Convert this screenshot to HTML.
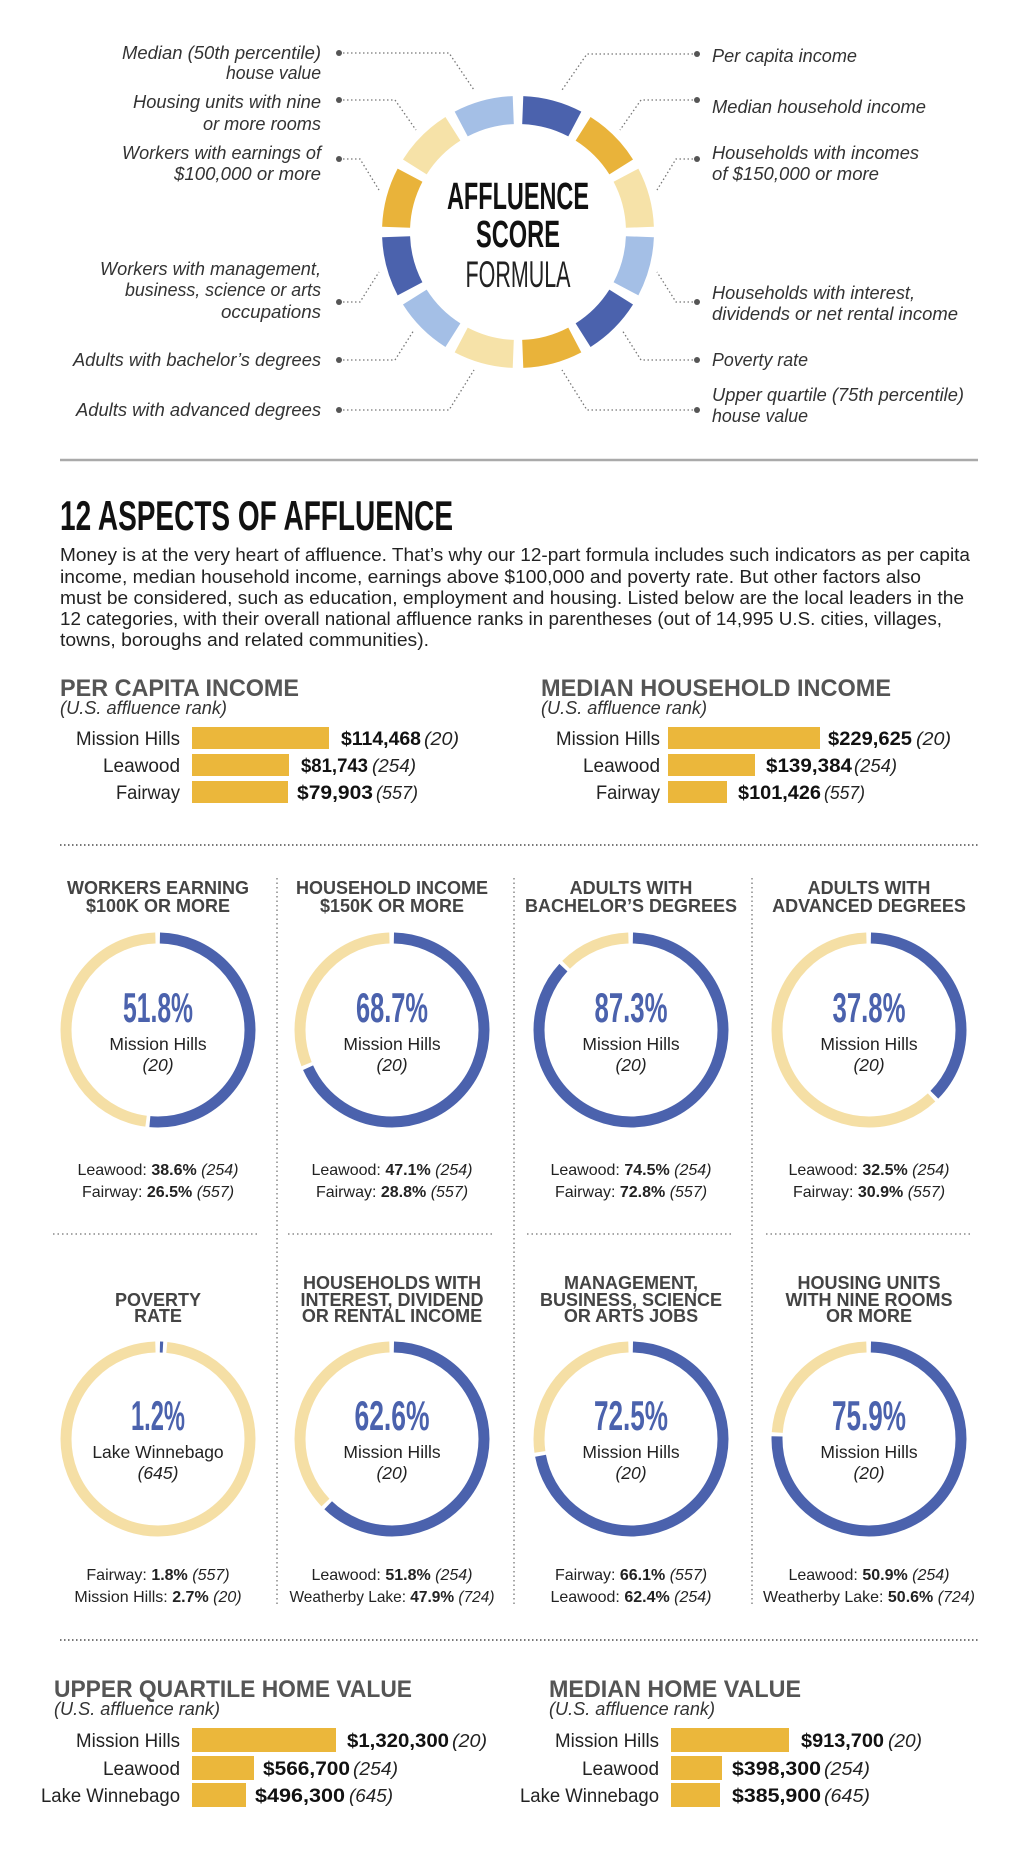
<!DOCTYPE html>
<html><head><meta charset="utf-8"><style>
html,body{margin:0;padding:0;background:#fff}
svg{display:block}
text{font-family:"Liberation Sans",sans-serif}
.lab{font-size:18px;font-style:italic;fill:#333}
.hd{font-size:18px;font-weight:bold;fill:#444;text-anchor:middle}
.bh{font-size:24px;font-weight:bold;fill:#555}
.sub{font-size:18px;font-style:italic;fill:#333}
.bl{font-size:19px;fill:#222;text-anchor:end}
.bv{font-size:19px;font-weight:bold;fill:#111}
.bp{font-size:18px;font-style:italic;fill:#222}
.pct{font-size:42px;font-weight:bold;fill:#4b62ad;text-anchor:middle}
.nm{font-size:17.5px;fill:#222;text-anchor:middle}
.rk{font-size:17.5px;font-style:italic;fill:#222;text-anchor:middle}
.bt{font-size:16px;fill:#222;text-anchor:middle}
.dot{stroke:#777;stroke-width:1.3;stroke-dasharray:1.5 2.5;fill:none}
</style></head><body>
<svg width="1024" height="1859" viewBox="0 0 1024 1859" xmlns="http://www.w3.org/2000/svg">
<g transform="translate(518,232) rotate(-90)">
<circle r="122" fill="none" stroke="#4b62ad" stroke-width="28" pathLength="360" stroke-dasharray="25.5 334.5" stroke-dashoffset="-2.25"/>
<circle r="122" fill="none" stroke="#e9b33a" stroke-width="28" pathLength="360" stroke-dasharray="25.5 334.5" stroke-dashoffset="-32.25"/>
<circle r="122" fill="none" stroke="#f6e2a8" stroke-width="28" pathLength="360" stroke-dasharray="25.5 334.5" stroke-dashoffset="-62.25"/>
<circle r="122" fill="none" stroke="#a4bfe6" stroke-width="28" pathLength="360" stroke-dasharray="25.5 334.5" stroke-dashoffset="-92.25"/>
<circle r="122" fill="none" stroke="#4b62ad" stroke-width="28" pathLength="360" stroke-dasharray="25.5 334.5" stroke-dashoffset="-122.25"/>
<circle r="122" fill="none" stroke="#e9b33a" stroke-width="28" pathLength="360" stroke-dasharray="25.5 334.5" stroke-dashoffset="-152.25"/>
<circle r="122" fill="none" stroke="#f6e2a8" stroke-width="28" pathLength="360" stroke-dasharray="25.5 334.5" stroke-dashoffset="-182.25"/>
<circle r="122" fill="none" stroke="#a4bfe6" stroke-width="28" pathLength="360" stroke-dasharray="25.5 334.5" stroke-dashoffset="-212.25"/>
<circle r="122" fill="none" stroke="#4b62ad" stroke-width="28" pathLength="360" stroke-dasharray="25.5 334.5" stroke-dashoffset="-242.25"/>
<circle r="122" fill="none" stroke="#e9b33a" stroke-width="28" pathLength="360" stroke-dasharray="25.5 334.5" stroke-dashoffset="-272.25"/>
<circle r="122" fill="none" stroke="#f6e2a8" stroke-width="28" pathLength="360" stroke-dasharray="25.5 334.5" stroke-dashoffset="-302.25"/>
<circle r="122" fill="none" stroke="#a4bfe6" stroke-width="28" pathLength="360" stroke-dasharray="25.5 334.5" stroke-dashoffset="-332.25"/>
</g>
<text x="518" y="209" text-anchor="middle" font-size="38" font-weight="bold" fill="#111" textLength="142" lengthAdjust="spacingAndGlyphs">AFFLUENCE</text>
<text x="518" y="247" text-anchor="middle" font-size="38" font-weight="bold" fill="#111" textLength="84" lengthAdjust="spacingAndGlyphs">SCORE</text>
<text x="518" y="287" text-anchor="middle" font-size="37" fill="#222" textLength="105" lengthAdjust="spacingAndGlyphs">FORMULA</text>

<polyline class="dot" points="339,53 449,53 474,90"/>
<polyline class="dot" points="339,100 395,100 416,130"/>
<polyline class="dot" points="339,159 360,159 379,190"/>
<polyline class="dot" points="339,302 360,302 379,272"/>
<polyline class="dot" points="339,360 395,360 414,330"/>
<polyline class="dot" points="339,410 449,410 474,370"/>
<polyline class="dot" points="697,54 587,54 562,90"/>
<polyline class="dot" points="697,100 641,100 620,130"/>
<polyline class="dot" points="697,159 676,159 657,190"/>
<polyline class="dot" points="697,302 676,302 657,272"/>
<polyline class="dot" points="697,360 641,360 622,330"/>
<polyline class="dot" points="697,410 587,410 562,370"/>
<g fill="#555">
<circle cx="339" cy="53" r="3"/><circle cx="339" cy="100" r="3"/><circle cx="339" cy="159" r="3"/>
<circle cx="339" cy="302" r="3"/><circle cx="339" cy="360" r="3"/><circle cx="339" cy="410" r="3"/>
<circle cx="697" cy="54" r="3"/><circle cx="697" cy="100" r="3"/><circle cx="697" cy="159" r="3"/>
<circle cx="697" cy="302" r="3"/><circle cx="697" cy="360" r="3"/><circle cx="697" cy="410" r="3"/>
</g>
<g class="lab" text-anchor="end">
<text x="321" y="59" textLength="199" lengthAdjust="spacingAndGlyphs">Median (50th percentile)</text>
<text x="321" y="79" textLength="95" lengthAdjust="spacingAndGlyphs">house value</text>
<text x="321" y="108" textLength="188" lengthAdjust="spacingAndGlyphs">Housing units with nine</text>
<text x="321" y="130" textLength="118" lengthAdjust="spacingAndGlyphs">or more rooms</text>
<text x="321" y="159" textLength="199" lengthAdjust="spacingAndGlyphs">Workers with earnings of</text>
<text x="321" y="180" textLength="147" lengthAdjust="spacingAndGlyphs">$100,000 or more</text>
<text x="321" y="275" textLength="221" lengthAdjust="spacingAndGlyphs">Workers with management,</text>
<text x="321" y="296" textLength="196" lengthAdjust="spacingAndGlyphs">business, science or arts</text>
<text x="321" y="318" textLength="100" lengthAdjust="spacingAndGlyphs">occupations</text>
<text x="321" y="366" textLength="248" lengthAdjust="spacingAndGlyphs">Adults with bachelor’s degrees</text>
<text x="321" y="416" textLength="245" lengthAdjust="spacingAndGlyphs">Adults with advanced degrees</text>
</g>
<g class="lab">
<text x="712" y="62" textLength="145" lengthAdjust="spacingAndGlyphs">Per capita income</text>
<text x="712" y="113" textLength="214" lengthAdjust="spacingAndGlyphs">Median household income</text>
<text x="712" y="159" textLength="207" lengthAdjust="spacingAndGlyphs">Households with incomes</text>
<text x="712" y="180" textLength="167" lengthAdjust="spacingAndGlyphs">of $150,000 or more</text>
<text x="712" y="299" textLength="203" lengthAdjust="spacingAndGlyphs">Households with interest,</text>
<text x="712" y="320" textLength="246" lengthAdjust="spacingAndGlyphs">dividends or net rental income</text>
<text x="712" y="366" textLength="96" lengthAdjust="spacingAndGlyphs">Poverty rate</text>
<text x="712" y="401" textLength="252" lengthAdjust="spacingAndGlyphs">Upper quartile (75th percentile)</text>
<text x="712" y="422" textLength="96" lengthAdjust="spacingAndGlyphs">house value</text>
</g>

<line x1="60" y1="460" x2="978" y2="460" stroke="#aaa" stroke-width="2.5"/>

<text x="60" y="530" font-size="42" font-weight="bold" fill="#111" textLength="393" lengthAdjust="spacingAndGlyphs">12 ASPECTS OF AFFLUENCE</text>
<g font-size="18" fill="#222">
<text x="60" y="561" textLength="910" lengthAdjust="spacingAndGlyphs">Money is at the very heart of affluence. That’s why our 12-part formula includes such indicators as per capita</text>
<text x="60" y="583" textLength="861" lengthAdjust="spacingAndGlyphs">income, median household income, earnings above $100,000 and poverty rate. But other factors also</text>
<text x="60" y="604" textLength="904" lengthAdjust="spacingAndGlyphs">must be considered, such as education, employment and housing. Listed below are the local leaders in the</text>
<text x="60" y="625" textLength="882" lengthAdjust="spacingAndGlyphs">12 categories, with their overall national affluence ranks in parentheses (out of 14,995 U.S. cities, villages,</text>
<text x="60" y="646" textLength="369" lengthAdjust="spacingAndGlyphs">towns, boroughs and related communities).</text>
</g>

<text class="bh" x="60" y="696" textLength="239" lengthAdjust="spacingAndGlyphs">PER CAPITA INCOME</text>
<text class="sub" x="60" y="714" textLength="167" lengthAdjust="spacingAndGlyphs">(U.S. affluence rank)</text>
<text class="bh" x="541" y="696" textLength="350" lengthAdjust="spacingAndGlyphs">MEDIAN HOUSEHOLD INCOME</text>
<text class="sub" x="541" y="714" textLength="166" lengthAdjust="spacingAndGlyphs">(U.S. affluence rank)</text>
<g fill="#ebb73b">
<rect x="192" y="727" width="137" height="22"/><rect x="192" y="754" width="97" height="22"/><rect x="192" y="781" width="96" height="22"/>
<rect x="668" y="727" width="152" height="22"/><rect x="668" y="754" width="87" height="22"/><rect x="668" y="781" width="59" height="22"/>
</g>
<text class="bl" x="180" y="745" textLength="104" lengthAdjust="spacingAndGlyphs">Mission Hills</text>
<text class="bl" x="180" y="772" textLength="77" lengthAdjust="spacingAndGlyphs">Leawood</text>
<text class="bl" x="180" y="799" textLength="64" lengthAdjust="spacingAndGlyphs">Fairway</text>
<text class="bl" x="660" y="745" textLength="104" lengthAdjust="spacingAndGlyphs">Mission Hills</text>
<text class="bl" x="660" y="772" textLength="77" lengthAdjust="spacingAndGlyphs">Leawood</text>
<text class="bl" x="660" y="799" textLength="64" lengthAdjust="spacingAndGlyphs">Fairway</text>
<text class="bv" x="341" y="745" textLength="80" lengthAdjust="spacingAndGlyphs">$114,468</text><text class="bp" x="424" y="745" textLength="35" lengthAdjust="spacingAndGlyphs">(20)</text>
<text class="bv" x="301" y="772" textLength="67" lengthAdjust="spacingAndGlyphs">$81,743</text><text class="bp" x="372" y="772" textLength="44" lengthAdjust="spacingAndGlyphs">(254)</text>
<text class="bv" x="297" y="799" textLength="76" lengthAdjust="spacingAndGlyphs">$79,903</text><text class="bp" x="376" y="799" textLength="42" lengthAdjust="spacingAndGlyphs">(557)</text>
<text class="bv" x="828" y="745" textLength="84" lengthAdjust="spacingAndGlyphs">$229,625</text><text class="bp" x="916" y="745" textLength="35" lengthAdjust="spacingAndGlyphs">(20)</text>
<text class="bv" x="766" y="772" textLength="86" lengthAdjust="spacingAndGlyphs">$139,384</text><text class="bp" x="854" y="772" textLength="43" lengthAdjust="spacingAndGlyphs">(254)</text>
<text class="bv" x="738" y="799" textLength="83" lengthAdjust="spacingAndGlyphs">$101,426</text><text class="bp" x="824" y="799" textLength="41" lengthAdjust="spacingAndGlyphs">(557)</text>

<line x1="60" y1="845" x2="978" y2="845" stroke="#777" stroke-width="2" stroke-dasharray="1.5 2.5"/>

<g stroke="#888" stroke-width="1.5" stroke-dasharray="1.5 3">
<line x1="277" y1="878" x2="277" y2="1604"/><line x1="514" y1="878" x2="514" y2="1604"/><line x1="752" y1="878" x2="752" y2="1604"/>
<line x1="53" y1="1234" x2="258" y2="1234"/><line x1="288" y1="1234" x2="495" y2="1234"/>
<line x1="527" y1="1234" x2="733" y2="1234"/><line x1="766" y1="1234" x2="972" y2="1234"/>
</g>
<line x1="60" y1="1640" x2="978" y2="1640" stroke="#777" stroke-width="2" stroke-dasharray="1.5 2.5"/>

<text class="hd" x="158" y="894">WORKERS EARNING</text><text class="hd" x="158" y="912">$100K OR MORE</text>
<text class="hd" x="392" y="894">HOUSEHOLD INCOME</text><text class="hd" x="392" y="912">$150K OR MORE</text>
<text class="hd" x="631" y="894">ADULTS WITH</text><text class="hd" x="631" y="912">BACHELOR’S DEGREES</text>
<text class="hd" x="869" y="894">ADULTS WITH</text><text class="hd" x="869" y="912">ADVANCED DEGREES</text>

<g transform="translate(158,1030) rotate(-90)">
<circle r="92" fill="none" stroke="#f5dfa5" stroke-width="11" pathLength="360" stroke-dasharray="171.1 360" stroke-dashoffset="-187.7"/>
<circle r="92" fill="none" stroke="#4b62ad" stroke-width="11" pathLength="360" stroke-dasharray="184.1 360" stroke-dashoffset="-1.2"/>
</g>
<g transform="translate(392,1030) rotate(-90)">
<circle r="92" fill="none" stroke="#f5dfa5" stroke-width="11" pathLength="360" stroke-dasharray="110.3 360" stroke-dashoffset="-248.5"/>
<circle r="92" fill="none" stroke="#4b62ad" stroke-width="11" pathLength="360" stroke-dasharray="244.9 360" stroke-dashoffset="-1.2"/>
</g>
<g transform="translate(631,1030) rotate(-90)">
<circle r="92" fill="none" stroke="#f5dfa5" stroke-width="11" pathLength="360" stroke-dasharray="43.3 360" stroke-dashoffset="-315.5"/>
<circle r="92" fill="none" stroke="#4b62ad" stroke-width="11" pathLength="360" stroke-dasharray="311.9 360" stroke-dashoffset="-1.2"/>
</g>
<g transform="translate(869,1030) rotate(-90)">
<circle r="92" fill="none" stroke="#f5dfa5" stroke-width="11" pathLength="360" stroke-dasharray="221.5 360" stroke-dashoffset="-137.3"/>
<circle r="92" fill="none" stroke="#4b62ad" stroke-width="11" pathLength="360" stroke-dasharray="133.7 360" stroke-dashoffset="-1.2"/>
</g>
<text class="pct" x="158" y="1022" textLength="70" lengthAdjust="spacingAndGlyphs">51.8%</text>
<text class="pct" x="392" y="1022" textLength="72" lengthAdjust="spacingAndGlyphs">68.7%</text>
<text class="pct" x="631" y="1022" textLength="73" lengthAdjust="spacingAndGlyphs">87.3%</text>
<text class="pct" x="869" y="1022" textLength="73" lengthAdjust="spacingAndGlyphs">37.8%</text>
<text class="nm" x="158" y="1050">Mission Hills</text><text class="rk" x="158" y="1071">(20)</text>
<text class="nm" x="392" y="1050">Mission Hills</text><text class="rk" x="392" y="1071">(20)</text>
<text class="nm" x="631" y="1050">Mission Hills</text><text class="rk" x="631" y="1071">(20)</text>
<text class="nm" x="869" y="1050">Mission Hills</text><text class="rk" x="869" y="1071">(20)</text>
<text class="bt" x="158" y="1175">Leawood: <tspan font-weight="bold">38.6%</tspan> <tspan font-style="italic">(254)</tspan></text>
<text class="bt" x="158" y="1197">Fairway: <tspan font-weight="bold">26.5%</tspan> <tspan font-style="italic">(557)</tspan></text>
<text class="bt" x="392" y="1175">Leawood: <tspan font-weight="bold">47.1%</tspan> <tspan font-style="italic">(254)</tspan></text>
<text class="bt" x="392" y="1197">Fairway: <tspan font-weight="bold">28.8%</tspan> <tspan font-style="italic">(557)</tspan></text>
<text class="bt" x="631" y="1175">Leawood: <tspan font-weight="bold">74.5%</tspan> <tspan font-style="italic">(254)</tspan></text>
<text class="bt" x="631" y="1197">Fairway: <tspan font-weight="bold">72.8%</tspan> <tspan font-style="italic">(557)</tspan></text>
<text class="bt" x="869" y="1175">Leawood: <tspan font-weight="bold">32.5%</tspan> <tspan font-style="italic">(254)</tspan></text>
<text class="bt" x="869" y="1197">Fairway: <tspan font-weight="bold">30.9%</tspan> <tspan font-style="italic">(557)</tspan></text>

<text class="hd" x="158" y="1306">POVERTY</text><text class="hd" x="158" y="1322">RATE</text>
<text class="hd" x="392" y="1289">HOUSEHOLDS WITH</text><text class="hd" x="392" y="1306">INTEREST, DIVIDEND</text><text class="hd" x="392" y="1322">OR RENTAL INCOME</text>
<text class="hd" x="631" y="1289">MANAGEMENT,</text><text class="hd" x="631" y="1306">BUSINESS, SCIENCE</text><text class="hd" x="631" y="1322">OR ARTS JOBS</text>
<text class="hd" x="869" y="1289">HOUSING UNITS</text><text class="hd" x="869" y="1306">WITH NINE ROOMS</text><text class="hd" x="869" y="1322">OR MORE</text>

<g transform="translate(158,1439) rotate(-90)">
<circle r="92" fill="none" stroke="#f5dfa5" stroke-width="11" pathLength="360" stroke-dasharray="353.3 360" stroke-dashoffset="-5.5"/>
<circle r="92" fill="none" stroke="#4b62ad" stroke-width="11" pathLength="360" stroke-dasharray="1.9 360" stroke-dashoffset="-1.2"/>
</g>
<g transform="translate(392,1439) rotate(-90)">
<circle r="92" fill="none" stroke="#f5dfa5" stroke-width="11" pathLength="360" stroke-dasharray="132.2 360" stroke-dashoffset="-226.6"/>
<circle r="92" fill="none" stroke="#4b62ad" stroke-width="11" pathLength="360" stroke-dasharray="223 360" stroke-dashoffset="-1.2"/>
</g>
<g transform="translate(631,1439) rotate(-90)">
<circle r="92" fill="none" stroke="#f5dfa5" stroke-width="11" pathLength="360" stroke-dasharray="96.6 360" stroke-dashoffset="-262.2"/>
<circle r="92" fill="none" stroke="#4b62ad" stroke-width="11" pathLength="360" stroke-dasharray="258.6 360" stroke-dashoffset="-1.2"/>
</g>
<g transform="translate(869,1439) rotate(-90)">
<circle r="92" fill="none" stroke="#f5dfa5" stroke-width="11" pathLength="360" stroke-dasharray="84.4 360" stroke-dashoffset="-274.4"/>
<circle r="92" fill="none" stroke="#4b62ad" stroke-width="11" pathLength="360" stroke-dasharray="270.8 360" stroke-dashoffset="-1.2"/>
</g>
<text class="pct" x="158" y="1430" textLength="54" lengthAdjust="spacingAndGlyphs">1.2%</text>
<text class="pct" x="392" y="1430" textLength="75" lengthAdjust="spacingAndGlyphs">62.6%</text>
<text class="pct" x="631" y="1430" textLength="74" lengthAdjust="spacingAndGlyphs">72.5%</text>
<text class="pct" x="869" y="1430" textLength="74" lengthAdjust="spacingAndGlyphs">75.9%</text>
<text class="nm" x="158" y="1458">Lake Winnebago</text><text class="rk" x="158" y="1479">(645)</text>
<text class="nm" x="392" y="1458">Mission Hills</text><text class="rk" x="392" y="1479">(20)</text>
<text class="nm" x="631" y="1458">Mission Hills</text><text class="rk" x="631" y="1479">(20)</text>
<text class="nm" x="869" y="1458">Mission Hills</text><text class="rk" x="869" y="1479">(20)</text>
<text class="bt" x="158" y="1580">Fairway: <tspan font-weight="bold">1.8%</tspan> <tspan font-style="italic">(557)</tspan></text>
<text class="bt" x="158" y="1602">Mission Hills: <tspan font-weight="bold">2.7%</tspan> <tspan font-style="italic">(20)</tspan></text>
<text class="bt" x="392" y="1580">Leawood: <tspan font-weight="bold">51.8%</tspan> <tspan font-style="italic">(254)</tspan></text>
<text class="bt" x="392" y="1602" textLength="205" lengthAdjust="spacingAndGlyphs">Weatherby Lake: <tspan font-weight="bold">47.9%</tspan> <tspan font-style="italic">(724)</tspan></text>
<text class="bt" x="631" y="1580">Fairway: <tspan font-weight="bold">66.1%</tspan> <tspan font-style="italic">(557)</tspan></text>
<text class="bt" x="631" y="1602">Leawood: <tspan font-weight="bold">62.4%</tspan> <tspan font-style="italic">(254)</tspan></text>
<text class="bt" x="869" y="1580">Leawood: <tspan font-weight="bold">50.9%</tspan> <tspan font-style="italic">(254)</tspan></text>
<text class="bt" x="869" y="1602" textLength="212" lengthAdjust="spacingAndGlyphs">Weatherby Lake: <tspan font-weight="bold">50.6%</tspan> <tspan font-style="italic">(724)</tspan></text>

<text class="bh" x="54" y="1697" textLength="358" lengthAdjust="spacingAndGlyphs">UPPER QUARTILE HOME VALUE</text>
<text class="sub" x="54" y="1715" textLength="166" lengthAdjust="spacingAndGlyphs">(U.S. affluence rank)</text>
<text class="bh" x="549" y="1697" textLength="252" lengthAdjust="spacingAndGlyphs">MEDIAN HOME VALUE</text>
<text class="sub" x="549" y="1715" textLength="166" lengthAdjust="spacingAndGlyphs">(U.S. affluence rank)</text>
<g fill="#ebb73b">
<rect x="192" y="1728" width="144" height="24"/><rect x="192" y="1756" width="62" height="24"/><rect x="192" y="1783" width="54" height="24"/>
<rect x="671" y="1728" width="118" height="24"/><rect x="671" y="1756" width="51" height="24"/><rect x="671" y="1783" width="49" height="24"/>
</g>
<text class="bl" x="180" y="1747" textLength="104" lengthAdjust="spacingAndGlyphs">Mission Hills</text>
<text class="bl" x="180" y="1775" textLength="77" lengthAdjust="spacingAndGlyphs">Leawood</text>
<text class="bl" x="180" y="1802" textLength="139" lengthAdjust="spacingAndGlyphs">Lake Winnebago</text>
<text class="bl" x="659" y="1747" textLength="104" lengthAdjust="spacingAndGlyphs">Mission Hills</text>
<text class="bl" x="659" y="1775" textLength="77" lengthAdjust="spacingAndGlyphs">Leawood</text>
<text class="bl" x="659" y="1802" textLength="139" lengthAdjust="spacingAndGlyphs">Lake Winnebago</text>
<text class="bv" x="347" y="1747" textLength="102" lengthAdjust="spacingAndGlyphs">$1,320,300</text><text class="bp" x="452" y="1747" textLength="35" lengthAdjust="spacingAndGlyphs">(20)</text>
<text class="bv" x="263" y="1775" textLength="87" lengthAdjust="spacingAndGlyphs">$566,700</text><text class="bp" x="353" y="1775" textLength="45" lengthAdjust="spacingAndGlyphs">(254)</text>
<text class="bv" x="255" y="1802" textLength="90" lengthAdjust="spacingAndGlyphs">$496,300</text><text class="bp" x="349" y="1802" textLength="44" lengthAdjust="spacingAndGlyphs">(645)</text>
<text class="bv" x="801" y="1747" textLength="83" lengthAdjust="spacingAndGlyphs">$913,700</text><text class="bp" x="888" y="1747" textLength="34" lengthAdjust="spacingAndGlyphs">(20)</text>
<text class="bv" x="732" y="1775" textLength="89" lengthAdjust="spacingAndGlyphs">$398,300</text><text class="bp" x="824" y="1775" textLength="46" lengthAdjust="spacingAndGlyphs">(254)</text>
<text class="bv" x="732" y="1802" textLength="89" lengthAdjust="spacingAndGlyphs">$385,900</text><text class="bp" x="824" y="1802" textLength="46" lengthAdjust="spacingAndGlyphs">(645)</text>
</svg>
</body></html>
